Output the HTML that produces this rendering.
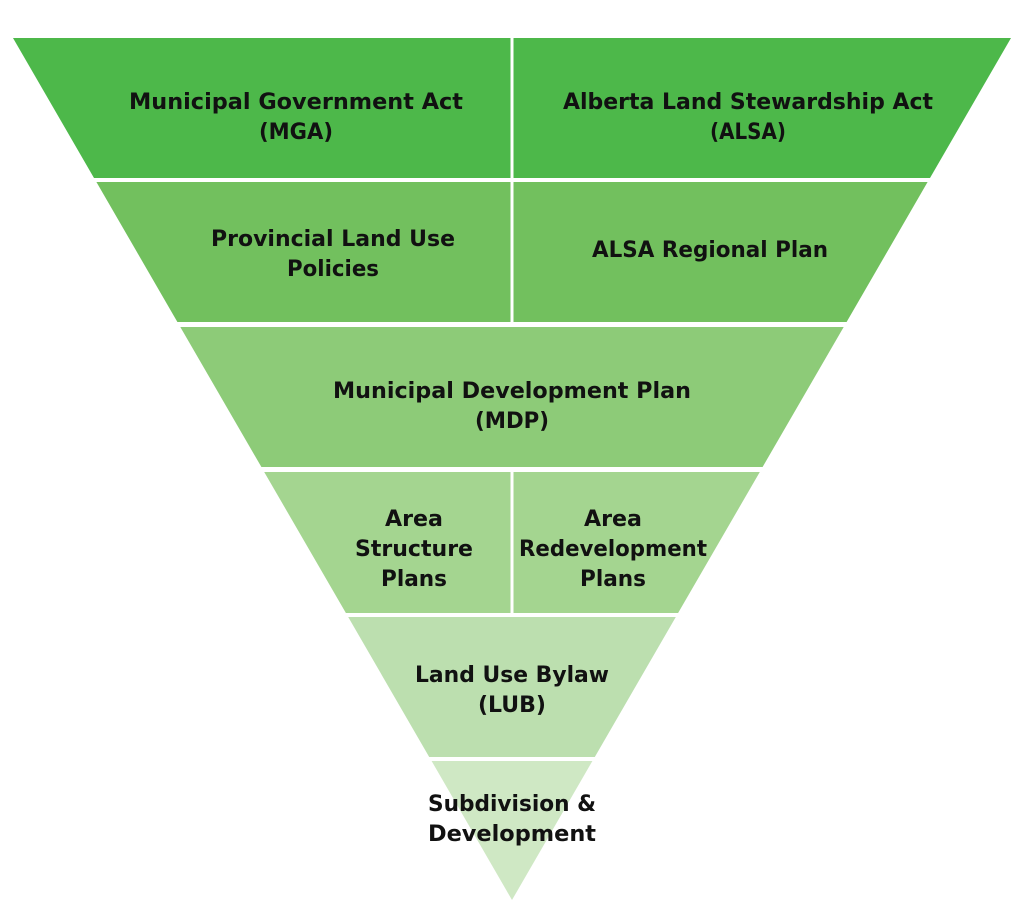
<!DOCTYPE html>
<html><head><meta charset="utf-8"><style>
html,body{margin:0;padding:0;background:#fff;}
svg{display:block;}
text{font-family:"DejaVu Sans","Liberation Sans",sans-serif;font-weight:bold;font-size:22px;fill:#111;text-anchor:middle;}
</style></head><body>
<svg width="1024" height="904" viewBox="0 0 1024 904" xmlns="http://www.w3.org/2000/svg">
<polygon points="13,38 1011,38 930,178 94,178" fill="#4db84a"/>
<polygon points="96.4,182 927.6,182 846.6,322 177.4,322" fill="#72c05e"/>
<polygon points="180.3,327 843.7,327 762.6,467 261.4,467" fill="#8dcb78"/>
<polygon points="264.2,472 759.8,472 678.1,613 345.9,613" fill="#a4d590"/>
<polygon points="348.2,617 675.8,617 594.8,757 429.2,757" fill="#bcdfaf"/>
<polygon points="431.6,761 592.4,761 512,900" fill="#cfe8c4"/>
<rect x="510.5" y="36" width="3" height="290" fill="#fff"/>
<rect x="510.5" y="470" width="3" height="146" fill="#fff"/>

<text x="296" y="109" textLength="334" lengthAdjust="spacingAndGlyphs">Municipal Government Act</text>
<text x="296" y="139" textLength="74" lengthAdjust="spacingAndGlyphs">(MGA)</text>
<text x="748" y="109" textLength="370" lengthAdjust="spacingAndGlyphs">Alberta Land Stewardship Act</text>
<text x="748" y="139" textLength="76" lengthAdjust="spacingAndGlyphs">(ALSA)</text>

<text x="333" y="246" textLength="244" lengthAdjust="spacingAndGlyphs">Provincial Land Use</text>
<text x="333" y="276" textLength="92" lengthAdjust="spacingAndGlyphs">Policies</text>
<text x="710" y="257" textLength="236" lengthAdjust="spacingAndGlyphs">ALSA Regional Plan</text>

<text x="512" y="398" textLength="358" lengthAdjust="spacingAndGlyphs">Municipal Development Plan</text>
<text x="512" y="428" textLength="74" lengthAdjust="spacingAndGlyphs">(MDP)</text>

<text x="414" y="526" textLength="58" lengthAdjust="spacingAndGlyphs">Area</text>
<text x="414" y="556" textLength="118" lengthAdjust="spacingAndGlyphs">Structure</text>
<text x="414" y="586" textLength="66" lengthAdjust="spacingAndGlyphs">Plans</text>
<text x="613" y="526" textLength="58" lengthAdjust="spacingAndGlyphs">Area</text>
<text x="613" y="556" textLength="188" lengthAdjust="spacingAndGlyphs">Redevelopment</text>
<text x="613" y="586" textLength="66" lengthAdjust="spacingAndGlyphs">Plans</text>

<text x="512" y="682" textLength="194" lengthAdjust="spacingAndGlyphs">Land Use Bylaw</text>
<text x="512" y="712" textLength="68" lengthAdjust="spacingAndGlyphs">(LUB)</text>

<text x="512" y="811" textLength="168" lengthAdjust="spacingAndGlyphs">Subdivision &amp;</text>
<text x="512" y="841" textLength="168" lengthAdjust="spacingAndGlyphs">Development</text>
</svg>
</body></html>
